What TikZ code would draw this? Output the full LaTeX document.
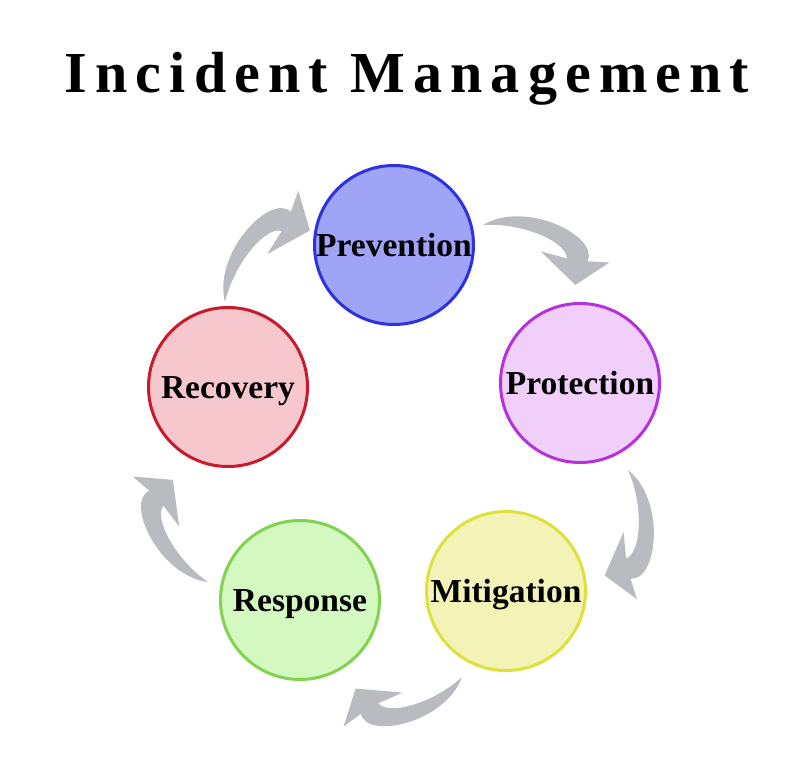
\documentclass[tikz,border=0pt]{standalone}
\usepackage{fontspec}
\setmainfont{Liberation Serif}
\newfontfamily\titlefont[LetterSpace=14]{Liberation Serif}
\usepackage{tikz}
\definecolor{arrowgray}{RGB}{185,187,193}
\definecolor{prevfill}{RGB}{159,164,246}
\definecolor{prevline}{RGB}{45,50,225}
\definecolor{protfill}{RGB}{240,208,250}
\definecolor{protline}{RGB}{180,50,220}
\definecolor{mitifill}{RGB}{243,243,183}
\definecolor{mitiline}{RGB}{220,225,60}
\definecolor{respfill}{RGB}{212,249,192}
\definecolor{respline}{RGB}{130,210,80}
\definecolor{recofill}{RGB}{246,200,206}
\definecolor{recoline}{RGB}{200,25,45}
\tikzstyle{stage} = [circle, line width=3pt, minimum size=159pt, inner sep=0pt,
  font=\fontsize{33.5}{33.5}\selectfont\bfseries, text height=22pt, text depth=0pt]
\tikzset{
  cyclearrow/.pic={
    \fill[arrowgray] (0,0)
      .. controls (20,-41) and (95,-49) .. (97.7,-24)
      -- (115,-34) -- (100,0) -- (57,-8.5) -- (80.4,-16)
      .. controls (72,-29) and (28,-21) .. (0,0) -- cycle;
  }
}

\begin{document}
\begin{tikzpicture}[x=1pt, y=-1pt]
\useasboundingbox[fill=white] (0,0) rectangle (800,781);
% Title
\node[anchor=base, font=\titlefont\fontsize{58}{58}\selectfont\bfseries] (title) at (407,93) {Incident Management};
% Arrows of the cycle
\pic[rotate=40.1, scale=1.11] (arrowA) at (225,302) {cyclearrow};
\pic[rotate=-33.0, scale=1.10] (arrowB) at (483,225) {cyclearrow};
\pic[rotate=-102.5, scale=1.08] (arrowC) at (628,470) {cyclearrow};
\pic[rotate=-173.8, scale=1.07] (arrowD) at (462,677) {cyclearrow};
\pic[rotate=109.0, scale=1.08] (arrowE) at (208,582) {cyclearrow};
% Stages
\node[stage, draw=prevline, fill=prevfill] (prevention) at (394,245) {Prevention};
\node[stage, draw=protline, fill=protfill] (protection) at (580,383) {Protection};
\node[stage, draw=mitiline, fill=mitifill] (mitigation) at (506,591) {Mitigation};
\node[stage, draw=respline, fill=respfill] (response) at (300,600) {Response};
\node[stage, draw=recoline, fill=recofill] (recovery) at (228,387) {Recovery};
\end{tikzpicture}
\end{document}
